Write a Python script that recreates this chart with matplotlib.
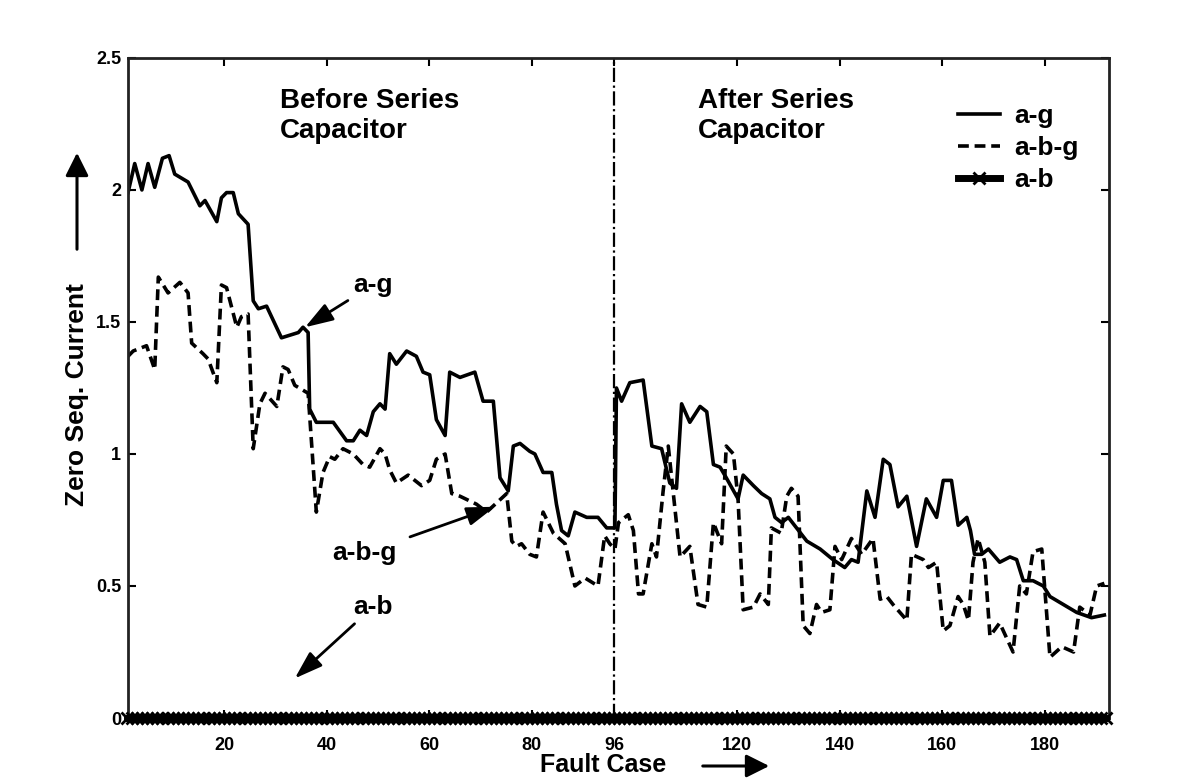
import matplotlib
matplotlib.use("Agg")
import matplotlib.pyplot as plt
from matplotlib.patches import FancyArrowPatch

plt.rcParams['font.family'] = ['Liberation Sans', 'DejaVu Sans']
plt.rcParams['font.weight'] = 'bold'

# ---- data ----
ag_case = [1.3, 2.6, 4.0, 5.2, 6.5, 8.0, 9.3, 10.4, 13.0, 15.3, 16.3, 18.6, 19.5, 20.5, 21.8,
           22.8, 24.7, 25.7, 26.7, 28.3, 31.2, 34.5, 35.4, 36.4, 36.7, 38.0, 40.6, 41.3, 43.9,
           45.2, 46.5, 47.8, 49.1, 50.4, 51.4, 52.3, 53.6, 55.6, 57.5, 58.8, 60.1, 61.4, 63.1,
           64.0, 66.0, 68.9, 70.5, 72.5, 73.8, 75.4, 76.4, 77.7, 79.6, 80.6, 82.2, 83.9, 84.8,
           85.8, 87.1, 88.4, 90.7, 92.9, 94.6, 96.2, 96.5, 97.5, 99.1, 101.7, 103.4, 105.3,
           106.9, 108.2, 109.2, 110.8, 112.8, 114.1, 115.4, 116.7, 117.9, 120.2, 121.2, 123.2,
           124.8, 126.4, 127.4, 128.7, 130.0, 131.6, 133.6, 136.2, 138.7, 141.0, 142.3, 143.6,
           145.3, 146.9, 148.5, 149.8, 151.4, 153.1, 155.0, 156.9, 158.9, 160.2, 161.8, 163.1,
           164.8, 165.5, 166.3, 167.7, 169.0, 171.2, 173.2, 174.5, 175.8, 177.7, 179.7, 181.0,
           183.6, 186.2, 189.1, 191.6]
ag_val = [1.99, 2.10, 2.00, 2.10, 2.01, 2.12, 2.13, 2.06, 2.03, 1.94, 1.96, 1.88, 1.97, 1.99, 1.99,
          1.91, 1.87, 1.58, 1.55, 1.56, 1.44, 1.46, 1.48, 1.46, 1.17, 1.12, 1.12, 1.12, 1.05,
          1.05, 1.09, 1.07, 1.16, 1.19, 1.17, 1.38, 1.34, 1.39, 1.37, 1.31, 1.30, 1.13, 1.07,
          1.31, 1.29, 1.31, 1.20, 1.20, 0.91, 0.86, 1.03, 1.04, 1.01, 1.00, 0.93, 0.93, 0.81,
          0.71, 0.69, 0.78, 0.76, 0.76, 0.72, 0.72, 1.25, 1.20, 1.27, 1.28, 1.03, 1.02,
          0.89, 0.87, 1.19, 1.12, 1.18, 1.16, 0.96, 0.95, 0.91, 0.83, 0.92, 0.88,
          0.85, 0.83, 0.76, 0.74, 0.76, 0.72, 0.67, 0.64, 0.60, 0.57, 0.60, 0.59,
          0.86, 0.76, 0.98, 0.96, 0.80, 0.84, 0.65, 0.83, 0.76, 0.90, 0.90, 0.73,
          0.76, 0.71, 0.62, 0.62, 0.64, 0.59, 0.61, 0.60, 0.52, 0.52, 0.50, 0.46,
          0.43, 0.40, 0.38, 0.39]

abg_case = [1.3, 2.3, 4.9, 6.5, 7.2, 9.1, 11.4, 13.0, 13.7, 15.9, 16.9, 18.6, 19.5, 20.5, 22.5,
            23.4, 24.7, 25.7, 27.0, 28.0, 30.3, 31.5, 32.5, 33.8, 36.4, 37.4, 38.0, 39.3, 40.6,
            41.6, 43.2, 45.2, 47.1, 48.4, 50.4, 51.4, 52.3, 53.6, 55.9, 58.5, 60.1, 61.4, 63.1,
            64.4, 66.0, 69.2, 71.2, 75.1, 76.1, 77.0, 78.0, 79.6, 80.9, 82.2, 84.2, 86.5, 88.4,
            90.4, 92.9, 94.2, 95.2, 96.2, 96.9, 98.8, 99.8, 100.8, 101.7, 103.4, 104.3, 105.6,
            106.6, 108.9, 110.8, 112.4, 114.1, 115.4, 117.0, 117.9, 119.3, 120.2, 121.2, 123.2,
            124.5, 126.1, 126.7, 128.6, 129.7, 130.6, 131.9, 132.9, 134.2, 135.5, 136.5, 138.1,
            139.1, 140.4, 142.3, 144.3, 146.5, 147.9, 149.2, 150.4, 153.1, 154.0, 156.3, 157.3,
            158.9, 160.2, 161.5, 163.1, 164.1, 165.1, 166.0, 167.0, 168.3, 169.3, 171.2, 173.8,
            175.1, 176.4, 177.7, 179.4, 181.0, 183.3, 185.6, 186.8, 188.8, 190.1, 191.6]
abg_val = [1.37, 1.39, 1.41, 1.32, 1.67, 1.61, 1.65, 1.61, 1.42, 1.38, 1.36, 1.27, 1.64, 1.63, 1.48,
           1.52, 1.53, 1.02, 1.19, 1.23, 1.18, 1.33, 1.32, 1.26, 1.23, 0.95, 0.78, 0.93, 0.99,
           0.98, 1.02, 1.00, 0.96, 0.95, 1.02, 1.00, 0.94, 0.89, 0.92, 0.88, 0.90, 0.98, 1.00,
           0.85, 0.84, 0.81, 0.78, 0.85, 0.67, 0.65, 0.66, 0.62, 0.61, 0.78, 0.70, 0.66, 0.50,
           0.53, 0.50, 0.69, 0.66, 0.64, 0.74, 0.77, 0.71, 0.47, 0.47, 0.66, 0.61, 0.86,
           1.03, 0.61, 0.65, 0.43, 0.42, 0.74, 0.66, 1.03, 1.00, 0.83, 0.41, 0.42,
           0.47, 0.43, 0.72, 0.70, 0.84, 0.87, 0.84, 0.35, 0.32, 0.43, 0.40, 0.41,
           0.65, 0.60, 0.68, 0.62, 0.68, 0.45, 0.46, 0.43, 0.37, 0.62, 0.60, 0.57,
           0.59, 0.33, 0.35, 0.46, 0.43, 0.37, 0.59, 0.68, 0.59, 0.31, 0.36, 0.25,
           0.50, 0.47, 0.63, 0.64, 0.23, 0.27, 0.25, 0.42, 0.39, 0.50, 0.51]

ab_case = list(range(1, 193))
ab_val = [0.0] * len(ab_case)

xticks = [20, 40, 60, 80, 96, 120, 140, 160, 180]
yticks = [0, 0.5, 1, 1.5, 2, 2.5]
ytick_labels = ['0', '0.5', '1', '1.5', '2', '2.5']
capacitor_case = 96

# ---- figure ----
fig = plt.figure(figsize=(11.78, 7.83), dpi=100)
ax = fig.add_axes([0.1087, 0.083, 0.8327, 0.843])

ax.plot(ag_case, ag_val, color='black', lw=2.6, label='a-g')
ax.plot(abg_case, abg_val, color='black', lw=2.6, ls=(0, (3, 1.6)), label='a-b-g')
ax.plot(ab_case, ab_val, color='black', lw=5, marker='x', ms=8, mew=2, label='a-b',
        clip_on=False, zorder=5)
ax.axvline(capacitor_case, color='black', lw=1.6, ls='-.')

ax.set_xlim(1.3, 192.5)
ax.set_ylim(0, 2.5)
ax.set_xticks(xticks)
ax.set_yticks(yticks)
ax.set_yticklabels(ytick_labels)
ax.tick_params(direction='in', length=6, width=1.5, labelsize=13, top=True, right=True, pad=5)
ax.tick_params(axis='x', pad=14)
for lab in ax.get_xticklabels() + ax.get_yticklabels():
    lab.set_fontweight('bold')
for s in ax.spines.values():
    s.set_linewidth(2)
    s.set_color('#222222')

ax.text(30.9, 2.385, 'Before Series\nCapacitor', fontsize=20, fontweight='bold', va='top', ha='left',
        linespacing=1.2)
ax.text(112.4, 2.385, 'After Series\nCapacitor', fontsize=20, fontweight='bold', va='top', ha='left',
        linespacing=1.2)

leg = ax.legend(loc='upper left', bbox_to_anchor=(958 / 1178, 1 - 104 / 783),
                bbox_transform=fig.transFigure, frameon=False, borderaxespad=0, borderpad=0,
                handlelength=1.6, handletextpad=0.55, labelspacing=0.3,
                prop={'weight': 'bold', 'size': 19})

arrowprops = dict(arrowstyle='-|>,head_length=0.9,head_width=0.3', color='black', lw=2)
ax.annotate('a-g', xy=(35.8, 1.48), xytext=(49.0, 1.64), fontsize=19, fontweight='bold',
            ha='center', va='center', arrowprops=dict(arrowprops, shrinkA=2, shrinkB=0))
ax.annotate('a-b-g', xy=(72.8, 0.80), xytext=(47.4, 0.625), fontsize=19, fontweight='bold',
            ha='center', va='center', arrowprops=dict(arrowprops, shrinkA=8, shrinkB=0))
ax.annotate('a-b', xy=(33.8, 0.15), xytext=(49.0, 0.42), fontsize=19, fontweight='bold',
            ha='center', va='center', arrowprops=dict(arrowprops, shrinkA=2, shrinkB=0))

# axis labels with arrows
fig.text(77 / 1178, 1 - 395 / 783, 'Zero Seq. Current', rotation=90, fontsize=19,
         fontweight='bold', ha='center', va='center')
fig.add_artist(FancyArrowPatch((77 / 1178, 1 - 252 / 783), (77 / 1178, 1 - 150 / 783),
               transform=fig.transFigure, arrowstyle='-|>,head_length=7,head_width=3.5',
               color='black', lw=2.2, mutation_scale=2))
fig.text(603 / 1178, 1 - 765 / 783, 'Fault Case', fontsize=18, fontweight='bold', ha='center',
         va='center')
fig.add_artist(FancyArrowPatch((700 / 1178, 1 - 766 / 783), (772 / 1178, 1 - 766 / 783),
               transform=fig.transFigure, arrowstyle='-|>,head_length=7,head_width=3.5',
               color='black', lw=2.2, mutation_scale=2))

fig.savefig('out.png', dpi=100)
